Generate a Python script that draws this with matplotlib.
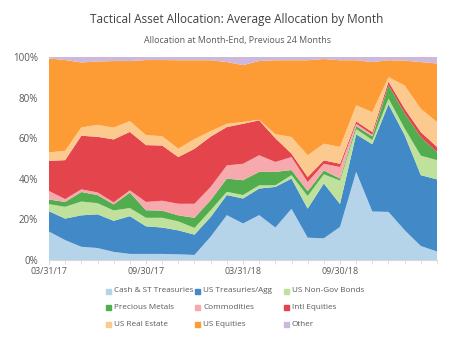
import matplotlib.pyplot as plt
from matplotlib.patches import Rectangle
from matplotlib.ticker import FixedLocator
import numpy as np

plt.rcParams['font.family'] = ['Open Sans', 'DejaVu Sans']

# month-end dates, 03/31/17 .. 03/31/19
months = np.arange(25)
tick_pos = [0, 6, 12, 18]
tick_labels = ['03/31/17', '09/30/17', '03/31/18', '09/30/18']
y_ticks = [0, 20, 40, 60, 80, 100]

# average allocation (%) per asset class
cash = [14, 9.8, 6.5, 5.9, 4, 3, 3, 3, 2.8, 2.5, 11.5, 22.1, 18, 22.1, 16, 25.2,
        11, 10.7, 16.3, 43.4, 23.9, 23.7, 14.7, 6.9, 4.2]
us_treas = [10, 10.6, 15.5, 16.6, 15.3, 18.6, 13.6, 13, 11.8, 10, 9.7, 9.9, 12.3,
            13.1, 20, 14.9, 14.3, 27, 11.3, 18.5, 33.1, 53, 46.8, 34.9, 35.5]
non_gov = [3.5, 5.8, 6.8, 5.5, 5.1, 4, 4.2, 4.8, 4.4, 3.3, 3.3, 1.6, 1.7, 1.6, 0.8,
           1.7, 6.2, 4.5, 11.5, 2.6, 2.1, 2.8, 3.3, 9.6, 9.5]
precious = [2.3, 2.4, 4.7, 4, 3, 7.6, 3.7, 3.5, 3, 5, 5, 6.5, 7.3, 6.6, 6.6, 2.5,
            2.4, 1.9, 1, 1.5, 1.8, 6.6, 7.4, 9.1, 4]
commod = [4.2, 1.4, 1.3, 1.3, 1, 1.1, 4.1, 4.9, 5.7, 6.9, 6.5, 6.5, 8.1, 8.2, 4.9,
          6.4, 4.5, 3.3, 5.7, 1.1, 0.8, 0, 0, 0, 0]
intl_eq = [14.8, 19.2, 26.4, 27.4, 31, 28.8, 28, 27.2, 23, 27.1, 24.8, 18.9, 19.7,
           17.2, 11.7, 1.7, 2.5, 1.7, 1.6, 1.2, 1.3, 1.8, 2.3, 2.5, 2.5]
real_est = [4.2, 4.6, 4.1, 5.9, 5.8, 5.4, 4.9, 4.6, 4.1, 4.8, 2.7, 1.6, 0.9, 0.3, 2,
            8.2, 10.7, 8.2, 8.3, 7.9, 9.9, 2.2, 11.5, 11.5, 12.3]
us_eq = [46.3, 44.7, 32, 31.2, 32.8, 29.5, 37, 37.5, 43.6, 38.8, 34.9, 30.4, 28,
         28.9, 36.4, 37.8, 46.8, 41.7, 42.7, 22.2, 24.6, 8.3, 12.2, 23, 28.8]
other = [0.7, 1.5, 2.7, 2.2, 2, 2, 1.5, 1.5, 1.6, 1.6, 1.6, 2.5, 4, 2, 1.6, 1.6,
         1.6, 1, 1.6, 1.6, 2.5, 1.6, 1.8, 2.5, 3.2]

names = ['Cash & ST Treasuries', 'US Treasuries/Agg', 'US Non-Gov Bonds',
         'Precious Metals', 'Commodities', 'Intl Equities',
         'US Real Estate', 'US Equities', 'Other']
colors = ['#b5d4ea', '#4189c7', '#bfe19c', '#52ad4f', '#f6aaad', '#e4444c',
          '#fcc98f', '#fd9b35', '#cdb8dd']

series = np.array([cash, us_treas, non_gov, precious, commod, intl_eq,
                   real_est, us_eq, other])
series = series / series.sum(axis=0) * 100

W, H = 474, 345
fig = plt.figure(figsize=(W / 100, H / 100), dpi=100)
ax = fig.add_axes([49 / W, 1 - 260 / H, 388 / W, 203 / H])
ax.stackplot(months, series, colors=colors, linewidth=0)

ax.set_xlim(0, 24)
ax.set_ylim(0, 100)
ax.yaxis.set_major_locator(FixedLocator(y_ticks))
ax.set_yticklabels([f'{v}%' for v in y_ticks])
ax.xaxis.set_major_locator(FixedLocator(tick_pos))
ax.set_xticklabels(tick_labels)
ax.xaxis.set_minor_locator(FixedLocator(months))

for s in ['top', 'right', 'left']:
    ax.spines[s].set_visible(False)
ax.spines['bottom'].set_color('#d9d9d9')
ax.tick_params(axis='y', length=0, pad=8, labelsize=7, labelcolor='#595959')
ax.tick_params(axis='x', which='both', length=3, color='#d9d9d9', pad=2,
               labelsize=6.4, labelcolor='#595959')

fig.text(0.5, 1 - 20 / H, 'Tactical Asset Allocation: Average Allocation by Month',
         ha='center', va='center', fontsize=8.5, color='#404040')
fig.text(0.5, 1 - 40 / H, 'Allocation at Month-End, Previous 24 Months',
         ha='center', va='center', fontsize=6.4, color='#595959')

# legend laid out row by row in fixed-width columns, like the reference
for i, (name, c) in enumerate(zip(names, colors)):
    row, col = divmod(i, 3)
    x = 106 + 89 * col
    y = 291 + 16.5 * row
    fig.patches.append(Rectangle((x / W, 1 - (y + 2.5) / H), 5 / W, 5 / H,
                                 transform=fig.transFigure, color=c))
    fig.text((x + 8) / W, 1 - y / H, name, ha='left', va='center',
             fontsize=5.9, color='#595959')

fig.savefig('out.png', dpi=100)
